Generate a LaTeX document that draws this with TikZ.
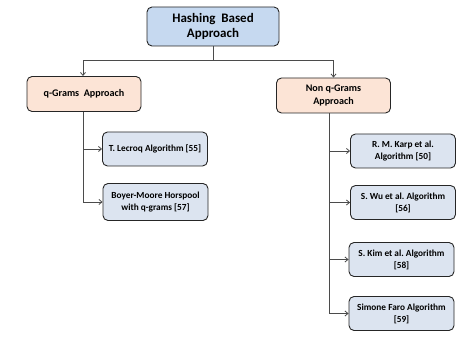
\documentclass[tikz,border=0pt]{standalone}
\usepackage{fontspec}
\setmainfont{Carlito}
\usepackage{tikz}
\usetikzlibrary{arrows.meta, positioning}
\usepackage{xcolor}
\definecolor{rootblue}{RGB}{198,217,240}
\definecolor{grouppeach}{RGB}{252,228,214}
\definecolor{leafgray}{RGB}{220,228,240}
\definecolor{linegray}{RGB}{75,75,75}
\frenchspacing

\begin{document}
\begin{tikzpicture}[x=1pt, y=-1pt,
        root/.style={rectangle, draw=black!85, line width=0.9pt, rounded corners=5pt, fill=rootblue,
                     minimum width=132pt, minimum height=39pt, align=center,
                     font=\fontsize{13}{15}\selectfont\bfseries, inner sep=2pt},
        group/.style={rectangle, draw=black!85, line width=0.9pt, rounded corners=5pt, fill=grouppeach,
                      minimum width=114pt, minimum height=35pt, align=center,
                      font=\fontsize{10.1}{13}\selectfont\bfseries, inner sep=2pt},
        leaf/.style={rectangle, draw=black!85, line width=0.9pt, rounded corners=5pt, fill=leafgray,
                     minimum width=105pt, minimum height=34pt, align=center,
                     font=\fontsize{9.3}{12}\selectfont\bfseries, inner sep=2pt},
        link/.style={linegray, line width=0.8pt},
        arrow/.style={link, -{Straight Barb[length=3pt, width=5pt]}}
    ]
        \useasboundingbox (0,0) rectangle (474,355);

        \node[root] (hash) at (213,26.5) {Hashing\ \ Based\\Approach};

        \node[group] (qgram) at (84,94) {q-Grams\ \ Approach};
        \node[group] (nonq) at (333.5,95.5) {Non q-Grams\\Approach};

        \node[leaf] (lecroq) at (155,149) {T. Lecroq Algorithm [55]};
        \node[leaf, minimum height=37pt] (boyer) at (155.5,202) {Boyer-Moore Horspool\\with q-grams [57]};

        \node[leaf] (karp) at (403,151) {R. M. Karp et al.\\Algorithm [50]};
        \node[leaf] (wu) at (403,202.5) {S. Wu et al. Algorithm\\{[56]}};
        \node[leaf] (kim) at (401.5,259.5) {S. Kim et al. Algorithm\\{[58]}};
        \node[leaf] (faro) at (401.5,313.5) {Simone Faro Algorithm\\{[59]}};

        % racine -> groupes
        \draw[arrow] (hash.south) -- ++(0,14) -| ([xshift=-1pt]qgram.north);
        \draw[arrow] (hash.south) -- ++(0,14) -| (nonq.north);

        % groupe q-grams -> algorithmes
        \draw[arrow] ([xshift=-1pt]qgram.south) |- (lecroq.west);
        \draw[arrow] ([xshift=-1pt]qgram.south) |- (boyer.west);

        % groupe non q-grams -> algorithmes
        \draw[arrow] ([xshift=-4.5pt]nonq.south) |- (karp.west);
        \draw[arrow] ([xshift=-4.5pt]nonq.south) |- (wu.west);
        \draw[arrow] ([xshift=-4.5pt]nonq.south) |- (kim.west);
        \draw[arrow] ([xshift=-4.5pt]nonq.south) |- (faro.west);
    \end{tikzpicture}
\end{document}
